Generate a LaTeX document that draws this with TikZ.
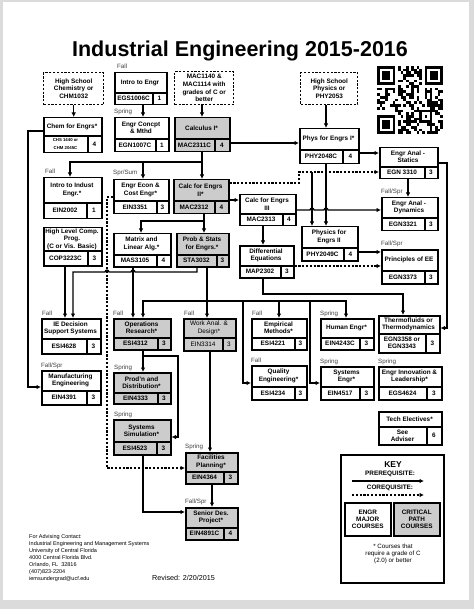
\documentclass[tikz,border=0pt]{standalone}
\usepackage{fontspec}
\setmainfont{Liberation Sans}
\usetikzlibrary{arrows.meta}
\tikzset{
  box/.style={draw, line width=1.5pt, inner sep=0pt, anchor=north west},
  plain/.style={box, fill=white},
  crit/.style={box, fill=black!20},
  dbox/.style={draw, line width=1.4pt, dash pattern=on 2.2pt off 1.6pt, inner sep=0pt, anchor=north west, align=center, font=\fontsize{6.4}{7.6}\selectfont\bfseries},
  txt/.style={font=\fontsize{6.4}{7.4}\selectfont\bfseries, align=center, inner sep=0pt},
  sem/.style={font=\fontsize{6.2}{7}\selectfont, text=black!75, anchor=base west, inner sep=0pt},
  conn/.style={line width=1.2pt},
  arr/.style={conn, -{Latex[length=4.5pt,width=4.5pt]}},
  coarr/.style={arr, dash pattern=on 2.2pt off 1.6pt},
  divl/.style={line width=1.2pt}
}
% course box: id, style, x1, y1, x2, y2, ysplit, xdiv, title ; then {code}{credits}
\newcommand\crs[9]{%
  \def\cid{#1}\def\cxa{#3}\def\cxb{#5}\def\cyb{#6}\def\cys{#7}\def\cxd{#8}%
  \node[#2, minimum width={(#5-#3)*1pt}, minimum height={(#6-#4)*1pt}] (#1) at (#3,#4) {};
  \draw[divl] (#3,#7) -- (#5,#7) (#8,#7) -- (#8,#6);
  \node[txt] (#1-t) at ({(#3+#5)/2},{(#4+#7)/2}) {#9};
  \crsB}
\newcommand\crsB[2]{%
  \node[txt] (\cid-c) at ({(\cxa+\cxd)/2},{(\cys+\cyb)/2}) {#1};
  \node[txt] (\cid-n) at ({(\cxd+\cxb)/2},{(\cys+\cyb)/2}) {#2};}
\newcommand\tinyf{\fontsize{4.3}{4.8}\selectfont}
\begin{document}
\begin{tikzpicture}[x=1pt,y=-1pt]
\useasboundingbox (0,0) rectangle (474,609);
\fill[black!14] (0,0) rectangle (474,609);
\fill[white] (3,2) rectangle (469,600);

\node[font=\fontsize{21.5}{24}\selectfont\bfseries, anchor=base] (title) at (240,57) {Industrial Engineering 2015-2016};

% QR code
\begin{scope}[shift={(377,66)}]
\foreach \a/\b in {0/0,18/0,0/18}{
  \fill (\a*2.64,\b*2.72) rectangle ++(7*2.64,7*2.72);
  \fill[white] (\a*2.64+2.64,\b*2.72+2.72) rectangle ++(5*2.64,5*2.72);
  \fill (\a*2.64+2*2.64,\b*2.72+2*2.72) rectangle ++(3*2.64,3*2.72);
}
\fill (16*2.64,16*2.72) rectangle ++(5*2.64,5*2.72);
\fill[white] (17*2.64,17*2.72) rectangle ++(3*2.64,3*2.72);
\fill (18*2.64,18*2.72) rectangle ++(2.64,2.72);
\pgfmathsetseed{4242}
\foreach \i in {0,...,24}{\foreach \j in {0,...,24}{
  \pgfmathtruncatemacro\inz{((\i<8)&&(\j<8))||((\i>16)&&(\j<8))||((\i<8)&&(\j>16))||((\i>15)&&(\i<21)&&(\j>15)&&(\j<21))}
  \pgfmathrandominteger{\rr}{0}{1}
  \ifnum\inz=0 \ifnum\rr=1 \fill (\i*2.64,\j*2.72) rectangle ++(2.64,2.72);\fi\fi
}}
\end{scope}

% dashed prerequisite boxes
\node[dbox, minimum width=60pt, minimum height=32pt] (hsChem) at (43,72) {High School\\Chemistry or\\CHM1032};
\node[dbox, minimum width=59pt, minimum height=33pt] (mac) at (174,71) {MAC1140 \&\\MAC1114 with\\grades of C or\\better};
\node[dbox, minimum width=57pt, minimum height=32pt] (hsPhys) at (300,72) {High School\\Physics or\\PHY2053};

% courses
\crs{introEngr}{plain}{114}{72}{166}{104}{93}{153}{Intro to Engr}{EGS1006C}{1}
\crs{concpt}{plain}{114}{117}{168}{151}{139}{156}{Engr Concpt\\\& Mthd}{EGN1007C}{1}
\crs{calcI}{crit}{174}{117}{229}{151}{139}{215}{Calculus I*}{MAC2311C}{4}
\crs{chem}{plain}{43}{117}{101}{152}{136}{88}{Chem for Engrs*}{\tinyf CHS 1440 or\\\tinyf CHM 2045C}{4}
\crs{physI}{plain}{299}{128}{358}{163}{150}{343}{Phys for Engrs I*}{PHY2048C}{4}
\crs{statics}{plain}{379}{147}{437}{178}{167}{425}{Engr Anal -\\Statics}{EGN 3310}{3}
\crs{introIE}{plain}{43}{177}{101}{218}{203}{87}{Intro to Indust\\Engr.*}{EIN2002}{1}
\crs{econ}{plain}{113}{179}{168}{213}{201}{157}{Engr Econ \&\\Cost Engr*}{EIN3351}{3}
\crs{calcII}{crit}{173}{179}{228}{213}{201}{215}{Calc for Engrs\\II*}{MAC2312}{4}
\crs{calcIII}{plain}{239}{194}{295}{225}{214}{283}{Calc for Engrs\\III}{MAC2313}{4}
\crs{dyn}{plain}{381}{197}{437}{230}{218}{425}{Engr Anal -\\Dynamics}{EGN3321}{3}
\crs{cop}{plain}{43}{227}{101}{265}{251}{88}{\fontsize{6.3}{5.9}\selectfont High Level Comp.\\Prog.\\(C or Vis. Basic)}{COP3223C}{3}
\crs{matrix}{plain}{113}{233}{170}{266}{255}{157}{Matrix and\\Linear Alg.*}{MAS3105}{4}
\crs{prob}{crit}{176}{233}{228}{266}{255}{217}{Prob \& Stats\\for Engrs.*}{STA3032}{3}
\crs{physII}{plain}{301}{226}{357}{260}{248}{344}{Physics for\\Engrs II}{PHY2049C}{4}
\crs{diffeq}{plain}{239}{245}{293}{277}{266}{281}{Differential\\Equations}{MAP2302}{3}
\crs{ee}{plain}{381}{249}{437}{283}{271}{425}{Principles of EE}{EGN3373}{3}
\crs{ieds}{plain}{41}{318}{100}{353}{339}{87}{IE Decision\\Support Systems}{ESI4628}{3}
\crs{ops}{crit}{113}{318}{170}{349}{338}{158}{Operations\\Research*}{ESI4312}{3}
\crs{work}{crit}{183}{318}{235}{350}{338}{223}{\mdseries Work Anal. \&\\\mdseries Design*}{\mdseries EIN3314}{\mdseries 3}
\crs{emp}{plain}{251}{318}{306}{349}{338}{295}{Empirical\\Methods*}{ESI4221}{3}
\crs{human}{plain}{320}{318}{373}{349}{338}{360}{Human Engr*}{EIN4243C}{3}
\crs{thermo}{plain}{378}{315}{439}{352}{334}{426}{Thermofluids or\\Thermodynamics}{EGN3358 or\\EGN3343}{3}
\crs{manuf}{plain}{41}{370}{100}{404}{391}{87}{Manufacturing\\Engineering}{EIN4391}{3}
\crs{prod}{crit}{113}{372}{170}{403}{393}{158}{Prod'n and\\Distribution*}{EIN4333}{3}
\crs{quality}{plain}{251}{365}{306}{399}{387}{295}{Quality\\Engineering*}{ESI4234}{3}
\crs{syseng}{plain}{320}{366}{373}{399}{387}{360}{Systems\\Engr*}{EIN4517}{3}
\crs{innov}{plain}{378}{366}{441}{399}{387}{427}{Engr Innovation \&\\Leadership*}{EGS4624}{3}
\crs{sysSim}{crit}{113}{419}{170}{454}{442}{157}{Systems\\Simulation*}{ESI4523}{3}
\crs{tech}{plain}{378}{411}{441}{444}{427}{427}{Tech Electives*}{See\\Adviser}{6}
\crs{fac}{crit}{185}{452}{237}{483}{472}{224}{Facilities\\Planning*}{EIN4364}{3}
\crs{senior}{crit}{185}{507}{237}{539}{528}{224}{Senior Des.\\Project*}{EIN4891C}{4}

% semester labels
\node[sem] (s1) at (117,69) {Fall};
\node[sem] (s2) at (114,114) {Spring};
\node[sem] (s3) at (45,174) {Fall};
\node[sem] (s4) at (113,175) {Spr/Sum};
\node[sem] (s5) at (381,194) {Fall/Spr};
\node[sem] (s6) at (381,246) {Fall/Spr};
\node[sem] (s7) at (42,315) {Fall};
\node[sem] (s8) at (113,315) {Fall};
\node[sem] (s9) at (184,315) {Fall};
\node[sem] (s10) at (252,315) {Fall};
\node[sem] (s11) at (320,315) {Spring};
\node[sem] (s12) at (41,367) {Fall/Spr};
\node[sem] (s13) at (114,369) {Spring};
\node[sem] (s14) at (251,362) {Fall};
\node[sem] (s15) at (320,363) {Spring};
\node[sem] (s16) at (378,363) {Spring};
\node[sem] (s17) at (114,416) {Spring};
\node[sem] (s18) at (185,448) {Spring};
\node[sem] (s19) at (185,503) {Fall/Spr};

% connectors
\draw[arr] (hsChem.south) -- (hsChem.south |- chem.north);
\draw[arr] (introEngr.south -| 143,0) -- (concpt.north -| 143,0);
\draw[arr] (mac.south -| 202,0) -- (calcI.north -| 202,0);
\coordinate (j1) at (202,162);
\draw[conn] (calcI.south -| 202,0) -- (j1);
\draw[arr] (j1) -- (calcII.north -| 202,0);
\draw[arr] (j1) -| (introIE.north -| 70,0);
\draw[arr] (j1 -| 143,0) -- (econ.north -| 143,0);
\draw[arr] (chem.west |- 0,131) -- (28,131) |- (manuf.west |- 0,387);
\draw[arr] (calcI.east |- 0,143) -- (physI.west |- 0,143);
\draw[arr] (hsPhys.south -| 326,0) -- (physI.north -| 326,0);
\draw[arr] (physI.east |- 0,153) -- (statics.west |- 0,153);
\draw[coarr] (calcII.east |- 0,183) -- (299,183) -- (299,172) -- (statics.west |- 0,172);
\draw[arr] (calcII.east |- 0,200) -- (calcIII.west |- 0,200);
\draw[arr] (statics.east |- 0,163) -- (447,163) |- (thermo.east |- 0,328);
\draw[arr] (statics.south -| 408,0) -- (dyn.north -| 408,0);
\draw[arr] (physI.south -| 326,0) -- (physII.north -| 326,0);
\coordinate (j5) at (312,172);
\draw[arr] (j5) -- (physII.north -| 312,0);
\draw[arr] (calcIII.east |- 0,210) -- (310,210) arc[start angle=180,end angle=360,radius=2] -- (324,210) arc[start angle=180,end angle=360,radius=2] -- (dyn.west |- 0,210);
\draw[arr] (calcIII.south -| 263,0) -- (diffeq.north -| 263,0);
\draw[arr] (physII.east |- 0,252) -- (ee.west |- 0,252);
\draw[coarr] (diffeq.east |- 0,266) -- (ee.west |- 0,266);
\draw[arr] (diffeq.south -| 263,0) -- (263,294) -| (thermo.north -| 403,0);
\coordinate (j2) at (204,221);
\draw[conn] (calcII.south -| 204,0) -- (j2);
\draw[arr] (j2) -- (prob.north -| 204,0);
\draw[arr] (j2) -| (matrix.north -| 141,0);
\draw[coarr] (econ.west |- 0,197) -| (107,468) -- (fac.west |- 0,468);
\draw[arr] (cop.south -| 65,0) -- (ieds.north -| 65,0);
\draw[arr] (prob.south -| 197,0) -- (197,272) -- (135,272) arc[start angle=0,end angle=-180,radius=2] -- (109,272) arc[start angle=0,end angle=-180,radius=2] -- (73,272) -- (ieds.north -| 73,0);
\draw[arr] (matrix.south -| 133,0) -- (ops.north -| 133,0);
\coordinate (j3) at (207,301);
\draw[arr] (prob.south -| 207,0) -- (work.north -| 207,0);
\draw[arr] (j3) -| (ops.north -| 143,0);
\draw[arr] (j3) -| (emp.north -| 279,0);
\draw[arr] (j3) -| (human.north -| 346,0);
\draw[arr] (j3 -| 243,0) |- (quality.west |- 0,383);
\draw[arr] (j3 -| 310,0) |- (syseng.west |- 0,383);
\draw[arr] (ops.south -| 143,0) -- (prod.north -| 143,0);
\coordinate (j4) at (143,356);
\draw[arr] (j4) -- (178,356) |- (sysSim.east |- 0,437);
\draw[arr] (work.south -| 210,0) -- (fac.north -| 210,0);
\draw[arr] (fac.south -| 212,0) -- (senior.north -| 212,0);
\draw[arr] (sysSim.south -| 143,0) |- (senior.west |- 0,512);

% key
\node[box, minimum width=103pt, minimum height=128pt] (key) at (340,454) {};
\node[font=\fontsize{8.5}{9}\selectfont\bfseries] (keyt) at (393,465) {KEY};
\node[txt] (pre) at (390,474) {PREREQUISITE:};
\coordinate (k1) at (352,481); \coordinate (k2) at (424,481);
\draw[arr] (k1) -- (k2);
\node[txt] (co) at (390,488) {COREQUISITE:};
\coordinate (k3) at (352,495); \coordinate (k4) at (424,495);
\draw[coarr] (k3) -- (k4);
\node[plain, minimum width=46pt, minimum height=33pt] (kmaj) at (344,502) {};
\node[txt] (kmajt) at (kmaj) {ENGR\\MAJOR\\COURSES};
\node[crit, minimum width=46pt, minimum height=33pt] (kcrit) at (393,502) {};
\node[txt] (kcritt) at (kcrit) {CRITICAL\\PATH\\COURSES};
\node[font=\fontsize{6.2}{7.2}\selectfont, align=center, inner sep=0pt] (knote) at (393,554) {* Courses that\\require a grade of C\\(2.0) or better};

% footer
\node[font=\fontsize{5.5}{7}\selectfont, align=left, anchor=north west, inner sep=0pt] (contact) at (29,534) {For Advising Contact:\\Industrial Engineering and Management Systems\\University of Central Florida\\4000 Central Florida Blvd.\\Orlando, FL\ \ 32816\\(407)823-2204\\iemsundergrad@ucf.edu};
\node[font=\fontsize{7.2}{8}\selectfont, anchor=west, inner sep=0pt] (rev) at (152,578) {Revised: 2/20/2015};
\end{tikzpicture}
\end{document}
